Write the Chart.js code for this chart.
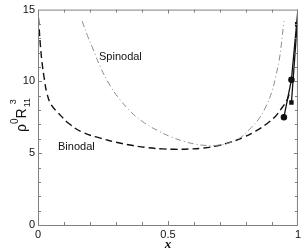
<!DOCTYPE html>
<html>
<head>
<meta charset="utf-8">
<script src="https://cdn.jsdelivr.net/npm/chart.js@4/dist/chart.umd.min.js"></script>
<style>
  html, body { margin: 0; padding: 0; background: #fff; }
  #wrap { width: 304px; height: 249px; }
</style>
</head>
<body>
<div id="wrap"><canvas id="c"></canvas></div>
<script>
// ── dados ──────────────────────────────────────────────
const binodalX = [0.002, 0.008, 0.015, 0.025, 0.034, 0.05, 0.078, 0.12, 0.172, 0.24, 0.298, 0.36, 0.424, 0.48, 0.525, 0.58, 0.638, 0.69, 0.738, 0.79, 0.839, 0.88, 0.914, 0.94, 0.958, 0.97];
const binodalY = [14.4, 12.8, 11.4, 10.1, 9.2, 8.4, 7.8, 7.05, 6.45, 6.05, 5.77, 5.55, 5.38, 5.3, 5.27, 5.29, 5.36, 5.52, 5.75, 6.1, 6.56, 7.05, 7.58, 8.2, 8.7, 9.3];

const spinodalX = [0.170, 0.19, 0.210, 0.24, 0.273, 0.31, 0.361, 0.41, 0.462, 0.51, 0.562, 0.60, 0.638, 0.69, 0.738, 0.78, 0.814, 0.85, 0.877, 0.90, 0.914, 0.928, 0.936, 0.946];
const spinodalY = [14.19, 13.2, 12.33, 11.0, 9.84, 8.85, 7.81, 7.1, 6.56, 6.15, 5.82, 5.65, 5.55, 5.55, 5.73, 6.1, 6.67, 7.4, 8.26, 9.3, 10.3, 11.5, 12.56, 14.19];

const circleX = [0.946, 0.975, 1.0];
const circleY = [7.51, 10.12, 15.0];
const squareX = [0.975, 0.997, 1.0];
const squareY = [8.53, 13.98, 15.0];

const xLabels = { 0: '0', 0.5: '0.5', 1: '1' };
const yLabels = { 0: '0', 5: '5', 10: '10', 15: '15' };

const pts = (xs, ys) => xs.map((x, i) => ({ x, y: ys[i] }));

const FONT = "'Liberation Sans', Arial, sans-serif";

// ── plugin: moldura, ticks internos, rótulos ──────────
const framePlugin = {
  id: 'frame',
  afterDraw(chart) {
    const { ctx, chartArea: a, scales } = chart;
    ctx.save();
    ctx.strokeStyle = '#808080';
    ctx.lineWidth = 1;
    ctx.strokeRect(a.left + 0.5, a.top + 0.5, a.right - a.left - 1, a.bottom - a.top);

    ctx.beginPath();
    for (let i = 1; i < 10; i++) {
      const px = Math.round(scales.x.getPixelForValue(i / 10)) + 0.5;
      const len = i === 5 ? 4 : 3;
      ctx.moveTo(px, a.bottom); ctx.lineTo(px, a.bottom - len);
      ctx.moveTo(px, a.top); ctx.lineTo(px, a.top + len);
    }
    for (let v = 1; v < 15; v++) {
      const py = Math.round(scales.y.getPixelForValue(v)) + 0.5;
      const len = v % 5 === 0 ? 4 : 3;
      ctx.moveTo(a.left, py); ctx.lineTo(a.left + len, py);
      ctx.moveTo(a.right, py); ctx.lineTo(a.right - len, py);
    }
    ctx.stroke();

    // rótulos das curvas
    ctx.fillStyle = '#111';
    ctx.font = '11px ' + FONT;
    ctx.textBaseline = 'middle';
    ctx.fillText('Spinodal', 99, 57);
    ctx.fillText('Binodal', 58, 147);

    // título x
    ctx.font = 'italic bold 13px "Liberation Serif", "DejaVu Serif", serif';
    ctx.textAlign = 'center';
    ctx.textBaseline = 'alphabetic';
    ctx.fillText('x', (a.left + a.right) / 2, 248);

    // título y: ρ⁰R₁₁³ (rotacionado)
    ctx.translate(20, 108);
    ctx.rotate(-Math.PI / 2);
    ctx.textAlign = 'left';
    let x0 = -24;
    ctx.font = '14px ' + FONT;
    ctx.fillText('ρ', x0, 6); x0 += ctx.measureText('ρ').width;
    ctx.font = '10px ' + FONT;
    ctx.fillText('0', x0, -2); x0 += ctx.measureText('0').width;
    ctx.font = '14px ' + FONT;
    ctx.fillText('R', x0, 6); x0 += ctx.measureText('R').width + 1;
    ctx.font = '9px ' + FONT;
    ctx.fillText('11', x0, 10);
    ctx.fillText('3', x0 + 3, -4);
    ctx.restore();
  }
};

new Chart(document.getElementById('c'), {
  type: 'scatter',
  data: {
    datasets: [
      {
        data: pts(spinodalX, spinodalY),
        showLine: true, borderColor: '#8a8a8a', borderWidth: 1,
        borderDash: [6, 3, 1, 3], pointRadius: 0, tension: 0.4
      },
      {
        data: pts(binodalX, binodalY),
        showLine: true, borderColor: '#111', borderWidth: 1.4,
        borderDash: [7, 4], pointRadius: 0, tension: 0.4
      },
      {
        data: pts(circleX, circleY),
        showLine: true, borderColor: '#111', borderWidth: 1.3,
        pointStyle: 'circle', pointRadius: [2.6, 2.6, 0],
        pointBackgroundColor: '#111', pointBorderColor: '#111'
      },
      {
        data: pts(squareX, squareY),
        showLine: true, borderColor: '#111', borderWidth: 1.3,
        pointStyle: 'rect', pointRadius: [2.2, 2.2, 0],
        pointBackgroundColor: '#111', pointBorderColor: '#111'
      }
    ]
  },
  options: {
    responsive: true,
    maintainAspectRatio: false,
    animation: false,
    layout: { padding: { top: 4, right: 1, left: 0, bottom: 0 } },
    plugins: { legend: { display: false }, tooltip: { enabled: false } },
    scales: {
      x: {
        type: 'linear', min: 0, max: 1,
        afterBuildTicks: s => { s.ticks = [0, 0.5, 1].map(v => ({ value: v })); },
        afterFit: s => { s.height = 24; },
        grid: { display: false, drawTicks: false },
        border: { display: false },
        ticks: {
          color: '#111', font: { family: FONT, size: 11 }, padding: 3,
          maxRotation: 0, callback: v => xLabels[v] ?? ''
        }
      },
      y: {
        type: 'linear', min: 0, max: 15,
        afterBuildTicks: s => { s.ticks = [0, 5, 10, 15].map(v => ({ value: v })); },
        afterFit: s => { s.width = 38; },
        grid: { display: false, drawTicks: false },
        border: { display: false },
        ticks: {
          color: '#111', font: { family: FONT, size: 11 }, padding: 3,
          callback: v => yLabels[v] ?? ''
        }
      }
    }
  },
  plugins: [framePlugin]
});
</script>
</body>
</html>
